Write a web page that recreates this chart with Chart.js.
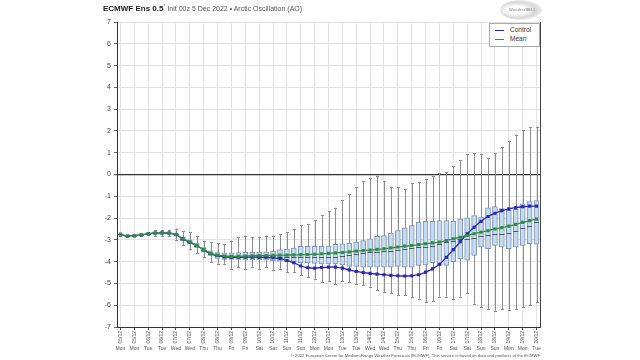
<!DOCTYPE html>
<html><head><meta charset="utf-8">
<script src="https://cdn.jsdelivr.net/npm/chart.js@4/dist/chart.umd.min.js"></script>
<style>
html,body{margin:0;padding:0;background:#fff;}
#wrap{position:relative;width:640px;height:360px;overflow:hidden;font-family:"Liberation Sans",Arial,sans-serif;}
canvas{position:absolute;left:0;top:0;}
#title{position:absolute;left:103px;top:3px;font-size:7px;color:#555;white-space:nowrap;}
#title b{font-size:8px;color:#222;}
#title sup{font-size:5px;}
#logo{position:absolute;left:500px;top:0px;width:42px;height:20px;border-radius:50%;background:radial-gradient(ellipse at 40% 50%,#fff 25%,#d8d8d8 55%,#f4f4f4 75%,#fff 100%);}
#logo span{position:absolute;left:9px;top:7px;font-size:4px;color:#777;letter-spacing:0.2px;}
#legend{position:absolute;left:489px;top:23px;width:49px;height:22px;background:#fff;border:1px solid #aaa;font-size:6.5px;color:#333;}
#legend .ln{position:absolute;left:5px;width:9px;height:0;}
#legend .tx{position:absolute;left:20px;}
#copy{position:absolute;right:100px;top:353px;font-size:4.2px;color:#555;white-space:nowrap;}
</style></head><body>
<div id="wrap">
<canvas id="c" width="640" height="360"></canvas>
<div id="title"><b>ECMWF Ens 0.5</b><sup>°</sup> Init 00z 5 Dec 2022 • Arctic Oscillation (AO)</div>
<div id="logo"><span>WeatherBELL</span></div>
<div id="legend">
 <div class="ln" style="top:6px;border-top:1.2px solid #2424c8"></div><div class="tx" style="top:2px">Control</div>
 <div class="ln" style="top:15px;border-top:1.2px solid #2e8f45"></div><div class="tx" style="top:11px">Mean</div>
</div>
<div id="copy">© 2022 European Centre for Medium-Range Weather Forecasts (ECMWF). This service is based on data and products of the ECMWF</div>
</div>
<script>
// 6-hourly forecast steps (0h .. 360h)
const steps = Array.from({length:61},(_,i)=>String(i*6));
const dateTicks = ['05/12','05/12','06/12','06/12','07/12','07/12','08/12','08/12','09/12','09/12','10/12','10/12','11/12','11/12','12/12','12/12','13/12','13/12','14/12','14/12','15/12','15/12','16/12','16/12','17/12','17/12','18/12','18/12','19/12','19/12','20/12'];
const dayTicks = ['Mon','Mon','Tue','Tue','Wed','Wed','Thu','Thu','Fri','Fri','Sat','Sat','Sun','Sun','Mon','Mon','Tue','Tue','Wed','Wed','Thu','Thu','Fri','Fri','Sat','Sat','Sun','Sun','Mon','Mon','Tue'];
const yTicks = [-7,-6,-5,-4,-3,-2,-1,0,1,2,3,4,5,6,7];

const meanAO = [-2.75,-2.83,-2.80,-2.77,-2.72,-2.69,-2.69,-2.69,-2.75,-2.95,-3.10,-3.26,-3.45,-3.62,-3.70,-3.74,-3.76,-3.76,-3.74,-3.73,-3.72,-3.72,-3.71,-3.70,-3.70,-3.69,-3.68,-3.67,-3.66,-3.64,-3.62,-3.60,-3.58,-3.55,-3.52,-3.49,-3.47,-3.44,-3.41,-3.37,-3.33,-3.29,-3.26,-3.22,-3.18,-3.14,-3.10,-3.03,-2.95,-2.88,-2.80,-2.72,-2.65,-2.58,-2.50,-2.44,-2.37,-2.29,-2.20,-2.12,-2.05];
const controlAO = [-2.75,-2.83,-2.80,-2.77,-2.72,-2.69,-2.68,-2.69,-2.76,-2.96,-3.11,-3.27,-3.46,-3.64,-3.72,-3.78,-3.80,-3.80,-3.79,-3.79,-3.80,-3.80,-3.82,-3.85,-3.95,-4.05,-4.20,-4.28,-4.30,-4.27,-4.25,-4.25,-4.30,-4.38,-4.45,-4.50,-4.54,-4.57,-4.60,-4.63,-4.65,-4.66,-4.65,-4.60,-4.48,-4.33,-4.12,-3.80,-3.45,-3.08,-2.72,-2.42,-2.15,-1.93,-1.78,-1.66,-1.58,-1.52,-1.48,-1.45,-1.45];
const whiskerMax = [-2.70,-2.78,-2.75,-2.72,-2.66,-2.56,-2.55,-2.55,-2.48,-2.60,-2.65,-2.80,-3.03,-3.10,-3.15,-3.18,-3.03,-2.87,-2.80,-2.87,-2.87,-2.80,-2.80,-2.72,-2.65,-2.49,-2.34,-2.26,-2.10,-1.88,-1.68,-1.53,-1.19,-0.89,-0.58,-0.31,-0.15,-0.05,-0.31,-0.58,-0.58,-0.66,-0.40,-0.35,-0.20,-0.05,0.06,0.11,0.37,0.67,0.92,0.98,0.95,0.77,0.98,1.28,1.56,1.83,2.05,2.17,2.20];
const boxQ3 = [-2.72,-2.80,-2.77,-2.74,-2.69,-2.64,-2.64,-2.64,-2.70,-2.88,-3.00,-3.15,-3.35,-3.50,-3.58,-3.60,-3.60,-3.58,-3.57,-3.57,-3.56,-3.55,-3.52,-3.45,-3.42,-3.38,-3.30,-3.30,-3.30,-3.30,-3.28,-3.21,-3.18,-3.15,-3.10,-3.03,-2.95,-2.84,-2.80,-2.69,-2.57,-2.45,-2.34,-2.19,-2.15,-2.15,-2.11,-2.11,-2.15,-2.03,-1.99,-1.88,-1.96,-1.53,-1.47,-1.56,-1.65,-1.60,-1.35,-1.24,-1.20];
const boxMedian = [-2.75,-2.83,-2.80,-2.77,-2.72,-2.69,-2.69,-2.69,-2.75,-2.96,-3.11,-3.27,-3.46,-3.63,-3.72,-3.76,-3.77,-3.77,-3.77,-3.76,-3.76,-3.76,-3.76,-3.77,-3.78,-3.78,-3.80,-3.80,-3.80,-3.79,-3.78,-3.77,-3.75,-3.70,-3.66,-3.60,-3.58,-3.55,-3.52,-3.49,-3.45,-3.42,-3.38,-3.33,-3.33,-3.28,-3.20,-3.10,-3.05,-2.98,-2.95,-2.90,-2.80,-2.78,-2.72,-2.72,-2.70,-2.60,-2.45,-2.35,-2.20];
const boxQ1 = [-2.78,-2.86,-2.83,-2.80,-2.75,-2.74,-2.74,-2.74,-2.80,-3.05,-3.20,-3.35,-3.55,-3.72,-3.85,-3.90,-3.90,-3.90,-3.92,-3.92,-3.92,-3.93,-3.95,-3.98,-4.00,-4.02,-4.05,-4.05,-4.08,-4.10,-4.10,-4.10,-4.15,-4.22,-4.22,-4.25,-4.25,-4.25,-4.25,-4.25,-4.22,-4.25,-4.25,-4.17,-4.15,-4.05,-4.17,-4.17,-4.00,-3.87,-3.93,-3.72,-3.33,-3.41,-3.26,-3.33,-3.41,-3.33,-3.26,-3.18,-3.20];
const whiskerMin = [-2.80,-2.88,-2.85,-2.82,-2.78,-2.82,-2.83,-2.84,-3.00,-3.25,-3.41,-3.62,-3.79,-4.02,-4.10,-4.10,-4.33,-4.26,-4.33,-4.26,-4.33,-4.26,-4.40,-4.33,-4.48,-4.48,-4.63,-4.70,-4.79,-4.94,-4.90,-5.02,-4.90,-4.95,-5.02,-5.09,-5.15,-5.32,-5.40,-5.45,-5.55,-5.55,-5.63,-5.70,-5.86,-5.80,-5.60,-5.60,-5.70,-5.60,-5.44,-5.93,-6.09,-6.17,-6.25,-6.17,-6.20,-6.17,-6.10,-6.00,-5.86];

const whiskerPlugin = {
  id: 'whiskers',
  beforeDatasetsDraw(chart) {
    const {ctx, scales: {x, y}} = chart;
    ctx.save();
    ctx.strokeStyle = '#8c8c8c';
    ctx.lineWidth = 1;
    whiskerMin.forEach((lo, i) => {
      const px = Math.round(x.getPixelForValue(i)) + 0.5;
      const yHi = y.getPixelForValue(whiskerMax[i]);
      const yLo = y.getPixelForValue(lo);
      ctx.beginPath();
      ctx.moveTo(px, yHi); ctx.lineTo(px, yLo);
      ctx.moveTo(px - 1.5, Math.round(yHi) + 0.5); ctx.lineTo(px + 1.5, Math.round(yHi) + 0.5);
      ctx.moveTo(px - 1.5, Math.round(yLo) + 0.5); ctx.lineTo(px + 1.5, Math.round(yLo) + 0.5);
      ctx.stroke();
    });
    ctx.restore();
  },
  afterDatasetDraw(chart, args) {
    if (args.index !== 0) return;
    const {ctx, scales: {x, y}} = chart;
    ctx.save();
    ctx.strokeStyle = '#4a5568';
    ctx.lineWidth = 1;
    boxMedian.forEach((m, i) => {
      const px = x.getPixelForValue(i);
      const py = Math.round(y.getPixelForValue(m)) + 0.5;
      ctx.beginPath(); ctx.moveTo(px - 2.5, py); ctx.lineTo(px + 2.5, py); ctx.stroke();
    });
    ctx.restore();
  },
  afterDraw(chart) {
    const {ctx, chartArea: a, scales: {x}} = chart;
    ctx.save();
    ctx.strokeStyle = '#444';
    ctx.lineWidth = 1;
    ctx.beginPath();
    ctx.moveTo(Math.round(a.right) + 0.5, a.top); ctx.lineTo(Math.round(a.right) + 0.5, a.bottom);
    ctx.stroke();
    // day-name row under the rotated date ticks
    ctx.fillStyle = '#555';
    ctx.font = '5px "Liberation Sans"';
    ctx.textAlign = 'center';
    ctx.textBaseline = 'middle';
    dayTicks.forEach((d, k) => {
      ctx.fillText(d, x.getPixelForValue(k * 2), x.bottom + 4);
    });
    ctx.restore();
  }
};

new Chart(document.getElementById('c'), {
  type: 'bar',
  data: {
    labels: steps,
    datasets: [
      {
        type: 'bar', label: 'Ensemble',
        data: boxQ1.map((v, i) => [v, boxQ3[i]]),
        backgroundColor: '#c4dbf4', borderColor: '#7d93b0', borderWidth: 1,
        borderSkipped: false, barThickness: 5, order: 3
      },
      {
        type: 'line', label: 'Control', data: controlAO,
        borderColor: '#2424c8', backgroundColor: '#2424c8', borderWidth: 1.3,
        pointRadius: 1.3, pointStyle: 'rect', tension: 0.2, order: 2
      },
      {
        type: 'line', label: 'Mean', data: meanAO,
        borderColor: '#2e8f45', backgroundColor: '#2e8f45', borderWidth: 1.3,
        pointRadius: 1.3, pointStyle: 'rect', tension: 0.2, order: 1
      }
    ]
  },
  options: {
    responsive: false, animation: false,
    layout: {padding: {left: 100, right: 100, top: 22, bottom: 15}},
    plugins: {legend: {display: false}, tooltip: {enabled: false}},
    scales: {
      x: {
        type: 'category', position: 'bottom', offset: true,
        grid: {offset: false, color: c => (c.index % 2 === 0 ? '#e2e2e2' : 'rgba(0,0,0,0)'), drawTicks: true, tickLength: 3, tickColor: c => (c.index % 2 === 0 ? '#444' : 'rgba(0,0,0,0)')},
        border: {display: true, color: '#333', width: 1},
        ticks: {autoSkip: false, minRotation: 90, maxRotation: 90, padding: 1, font: {size: 5, family: 'Liberation Sans'}, color: '#555',
          callback: (v, i) => (i % 2 === 0 ? dateTicks[i / 2] : '')},
        afterFit: s => { s.height = 18; }
      },
      y: {
        min: yTicks[0], max: yTicks[yTicks.length - 1],
        afterBuildTicks: s => { s.ticks = yTicks.map(v => ({value: v})); },
        grid: {color: c => (c.tick && c.tick.value === 0 ? '#333' : '#e2e2e2'), lineWidth: c => (c.tick && c.tick.value === 0 ? 1.3 : 1), tickLength: 3, tickColor: '#666'},
        border: {display: true, color: '#333', width: 1},
        ticks: {padding: 3, font: {size: 7, family: 'Liberation Sans'}, color: '#444'},
        afterFit: s => { s.width = 17; }
      }
    }
  },
  plugins: [whiskerPlugin]
});
</script>
</body></html>
